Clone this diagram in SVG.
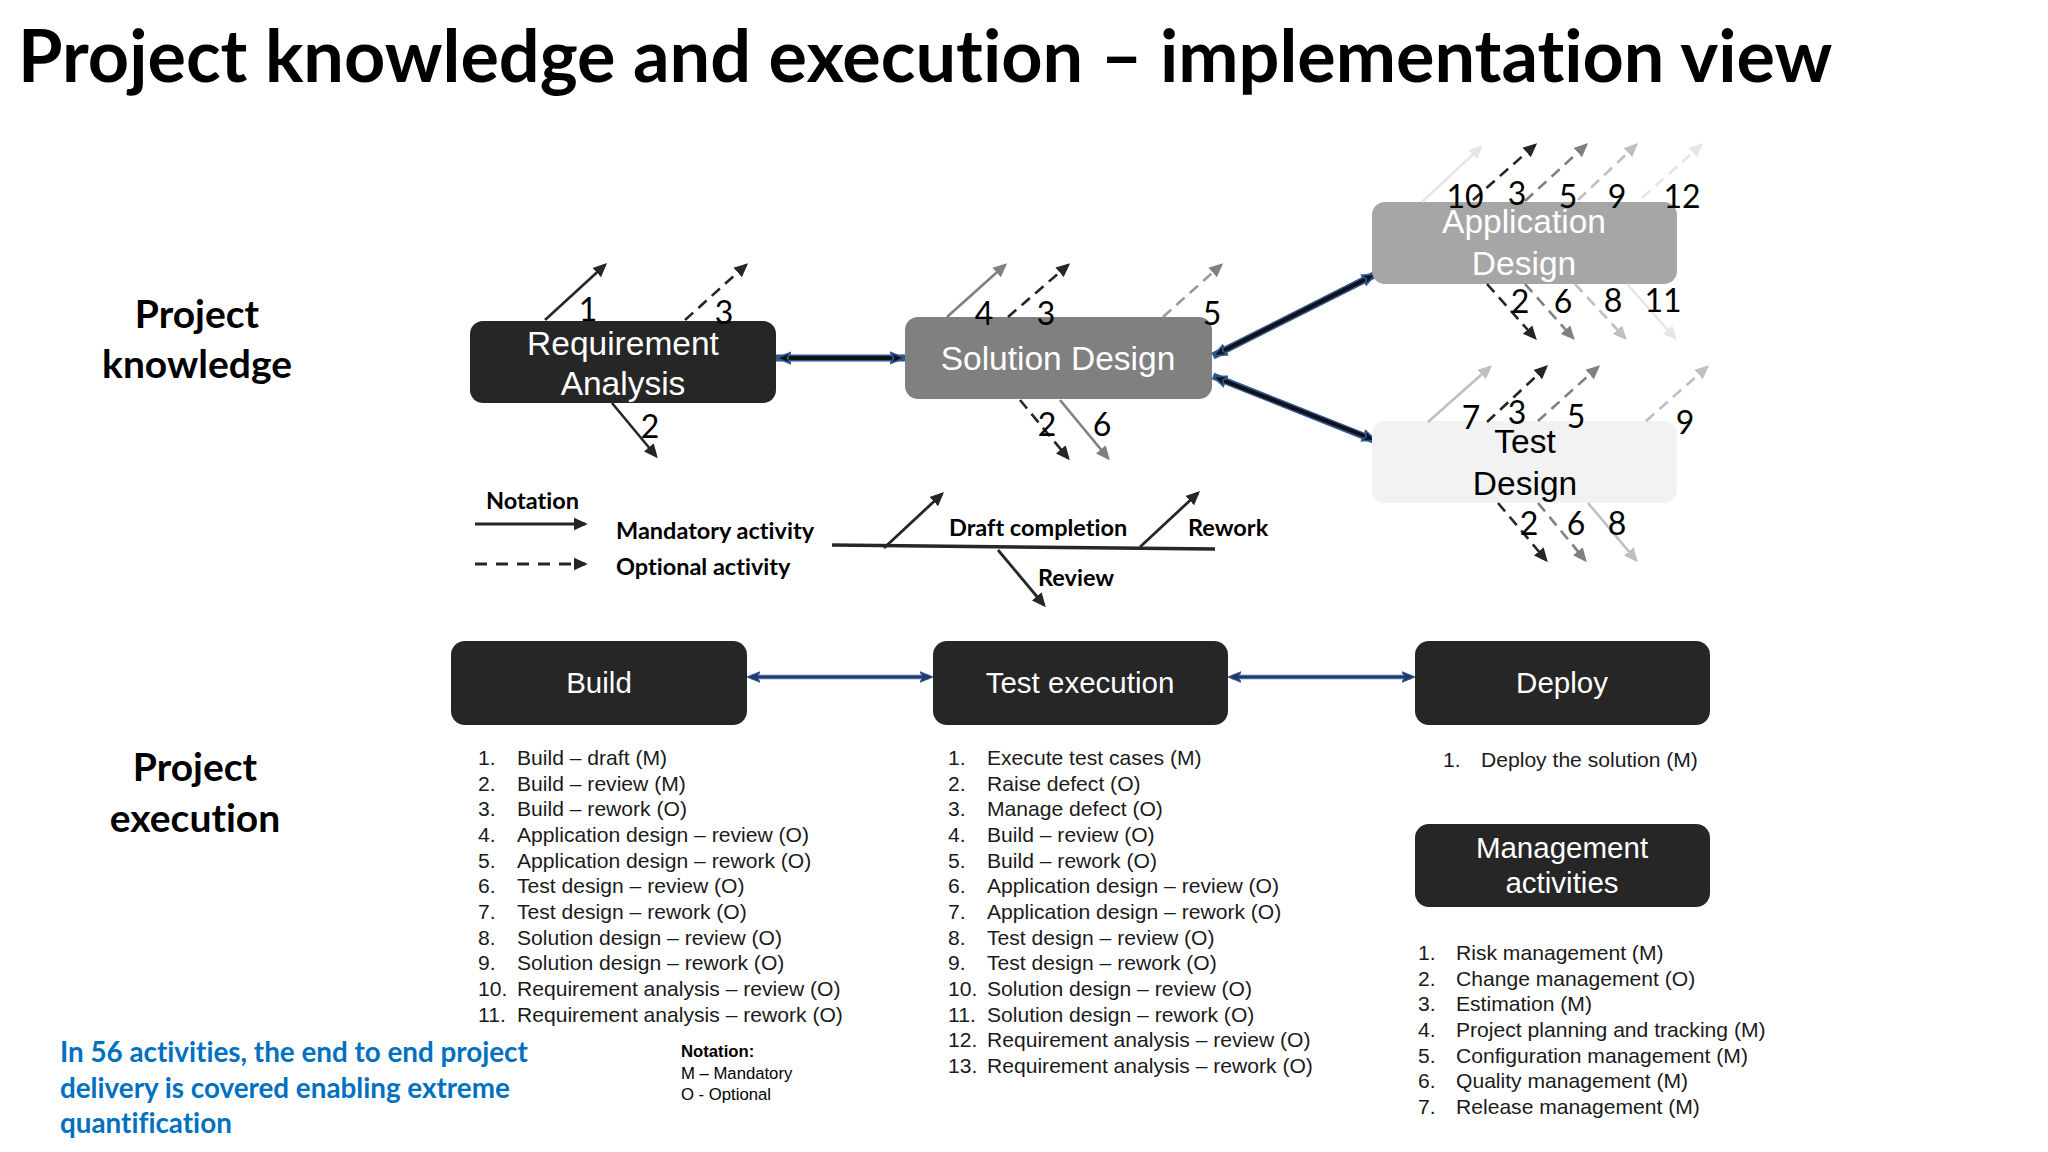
<svg xmlns="http://www.w3.org/2000/svg" width="2048" height="1152" viewBox="0 0 2048 1152">
<defs>
<style>
text{font-variant-ligatures:none}
.title{font-family:Lato,"Open Sans",sans-serif;font-weight:700;font-size:72px;fill:#000}
.sec{font-family:Lato,"Open Sans",sans-serif;font-weight:700;font-size:39px;fill:#000;text-anchor:middle}
.nl{font-family:"Liberation Sans",Arial,sans-serif;font-size:33.5px;fill:#fff;text-anchor:middle}
.nl2{font-family:"Liberation Sans",Arial,sans-serif;font-size:29.5px;fill:#fff;text-anchor:middle}
.num{font-family:Lato,"Open Sans",sans-serif;font-size:32px;fill:#000;text-anchor:middle}
.leg{font-family:Lato,"Open Sans",sans-serif;font-weight:700;font-size:23.5px;fill:#000}
.list{font-family:"Liberation Sans",Arial,sans-serif;font-size:21.1px;fill:#1a1a1a}
.blue{font-family:Lato,"Open Sans",sans-serif;font-weight:700;font-size:27.8px;fill:#0070C0}
.sm{font-family:"Liberation Sans",Arial,sans-serif;font-size:16.7px;fill:#000}
.a{fill:none;stroke-width:2.6}
.dash{stroke-dasharray:11 7}
.cD{stroke:#262626}
.cG{stroke:#808080}
.cL{stroke:#bfbfbf}
.cV{stroke:#e6e6e6}
</style>
<marker id="hD" viewBox="0 0 10 10" refX="8" refY="5" markerWidth="14" markerHeight="14" markerUnits="userSpaceOnUse" orient="auto"><path d="M0,0.5 L10,5 L0,9.5 z" fill="#262626"/></marker>
<marker id="hG" viewBox="0 0 10 10" refX="8" refY="5" markerWidth="14" markerHeight="14" markerUnits="userSpaceOnUse" orient="auto"><path d="M0,0.5 L10,5 L0,9.5 z" fill="#808080"/></marker>
<marker id="hL" viewBox="0 0 10 10" refX="8" refY="5" markerWidth="14" markerHeight="14" markerUnits="userSpaceOnUse" orient="auto"><path d="M0,0.5 L10,5 L0,9.5 z" fill="#bfbfbf"/></marker>
<marker id="hV" viewBox="0 0 10 10" refX="8" refY="5" markerWidth="14" markerHeight="14" markerUnits="userSpaceOnUse" orient="auto"><path d="M0,0.5 L10,5 L0,9.5 z" fill="#e6e6e6"/></marker>
<marker id="tE" viewBox="0 0 10 10" refX="7" refY="5" markerWidth="14" markerHeight="14" markerUnits="userSpaceOnUse" orient="auto-start-reverse"><path d="M0,1 L10,5 L0,9 L2.5,5 z" fill="#111" stroke="#2F5597" stroke-width="1.2"/></marker>
<marker id="nE" viewBox="0 0 10 10" refX="7" refY="5" markerWidth="13" markerHeight="13" markerUnits="userSpaceOnUse" orient="auto-start-reverse"><path d="M0,1 L10,5 L0,9 L2.5,5 z" fill="#203864" stroke="#2F5597" stroke-width="0.8"/></marker>
</defs>
<rect width="2048" height="1152" fill="#fff"/>

<text class="title" x="18" y="82">Project knowledge and execution – implementation view</text>

<text class="sec" x="197" y="328">Project</text>
<text class="sec" x="197" y="378">knowledge</text>
<text class="sec" x="195" y="781">Project</text>
<text class="sec" x="195" y="832">execution</text>

<!-- connectors -->
<g id="connectors">
  <line x1="776" y1="358" x2="905" y2="358" stroke="#2F5597" stroke-width="7"/>
  <line x1="781" y1="358" x2="900" y2="358" stroke="#111" stroke-width="4" marker-start="url(#tE)" marker-end="url(#tE)"/>
  <line x1="1213" y1="356" x2="1376" y2="274" stroke="#2F5597" stroke-width="7"/>
  <line x1="1217" y1="354" x2="1372" y2="276" stroke="#111" stroke-width="4" marker-start="url(#tE)" marker-end="url(#tE)"/>
  <line x1="1213" y1="376" x2="1376" y2="441" stroke="#2F5597" stroke-width="7"/>
  <line x1="1217" y1="378" x2="1372" y2="439" stroke="#111" stroke-width="4" marker-start="url(#tE)" marker-end="url(#tE)"/>
  <line x1="751" y1="677" x2="929" y2="677" stroke="#4a6aa8" stroke-width="4.5" marker-start="url(#nE)" marker-end="url(#nE)"/>
  <line x1="751" y1="677" x2="929" y2="677" stroke="#1F3864" stroke-width="2.2"/>
  <line x1="1232" y1="677" x2="1411" y2="677" stroke="#4a6aa8" stroke-width="4.5" marker-start="url(#nE)" marker-end="url(#nE)"/>
  <line x1="1232" y1="677" x2="1411" y2="677" stroke="#1F3864" stroke-width="2.2"/>
</g>

<!-- Requirement Analysis -->
<g id="req-analysis">
  <rect x="470" y="321" width="306" height="82" rx="13" fill="#262626"/>
  <text class="nl" x="623" y="355">Requirement</text>
  <text class="nl" x="623" y="395">Analysis</text>
  <line class="a cD" x1="545" y1="320" x2="605" y2="265" marker-end="url(#hD)"/>
  <line class="a cD dash" x1="685" y1="320" x2="746" y2="265" marker-end="url(#hD)"/>
  <line class="a cD" x1="612" y1="403" x2="656" y2="456" marker-end="url(#hD)"/>
  <text class="num" x="588" y="321">1</text>
  <text class="num" x="724" y="324">3</text>
  <text class="num" x="650" y="438">2</text>
</g>

<!-- Solution Design -->
<g id="solution-design">
  <rect x="905" y="317" width="307" height="82" rx="13" fill="#808080"/>
  <text class="nl" x="1058" y="370">Solution Design</text>
  <line class="a cG" x1="947" y1="317" x2="1005" y2="265" marker-end="url(#hG)"/>
  <line class="a cD dash" x1="1008" y1="317" x2="1068" y2="265" marker-end="url(#hD)"/>
  <line class="a dash" stroke="#999" x1="1163" y1="317" x2="1221" y2="265" marker-end="url(#hG)"/>
  <line class="a cD dash" x1="1020" y1="400" x2="1068" y2="458" marker-end="url(#hD)"/>
  <line class="a cG" x1="1060" y1="400" x2="1108" y2="458" marker-end="url(#hG)"/>
  <text class="num" x="984" y="325">4</text>
  <text class="num" x="1046" y="325">3</text>
  <text class="num" x="1212" y="325">5</text>
  <text class="num" x="1047" y="436">2</text>
  <text class="num" x="1102" y="436">6</text>
</g>

<!-- Application Design -->
<g id="application-design">
  <rect x="1372" y="202" width="305" height="82" rx="13" fill="#a6a6a6"/>
  <line class="a cV" x1="1422" y1="202" x2="1481" y2="147" marker-end="url(#hV)"/>
  <line class="a cD dash" x1="1473" y1="200" x2="1535" y2="145" marker-end="url(#hD)"/>
  <line class="a cG dash" x1="1525" y1="201" x2="1586" y2="145" marker-end="url(#hG)"/>
  <line class="a cL dash" x1="1578" y1="200" x2="1636" y2="145" marker-end="url(#hL)"/>
  <line class="a cV dash" x1="1642" y1="198" x2="1701" y2="145" marker-end="url(#hV)"/>
  <line class="a cD dash" x1="1487" y1="284" x2="1535" y2="338" marker-end="url(#hD)"/>
  <line class="a cG dash" x1="1525" y1="284" x2="1573" y2="338" marker-end="url(#hG)"/>
  <line class="a cL dash" x1="1575" y1="284" x2="1625" y2="338" marker-end="url(#hL)"/>
  <line class="a cV" x1="1627" y1="284" x2="1675" y2="338" marker-end="url(#hV)"/>
  <text class="nl" x="1524" y="233">Application</text>
  <text class="nl" x="1524" y="275">Design</text>
  <text class="num" x="1465" y="208">10</text>
  <text class="num" x="1517" y="205">3</text>
  <text class="num" x="1568" y="208">5</text>
  <text class="num" x="1617" y="208">9</text>
  <text class="num" x="1682" y="208">12</text>
  <text class="num" x="1520" y="313">2</text>
  <text class="num" x="1563" y="313">6</text>
  <text class="num" x="1613" y="312">8</text>
  <text class="num" x="1663" y="312">11</text>
</g>

<!-- Test Design -->
<g id="test-design">
  <rect x="1372" y="421" width="305" height="82" rx="13" fill="#f2f2f2"/>
  <line class="a cL" x1="1428" y1="422" x2="1490" y2="367" marker-end="url(#hL)"/>
  <line class="a cD dash" x1="1487" y1="422" x2="1546" y2="367" marker-end="url(#hD)"/>
  <line class="a cG dash" x1="1538" y1="421" x2="1598" y2="367" marker-end="url(#hG)"/>
  <line class="a cL dash" x1="1646" y1="421" x2="1707" y2="367" marker-end="url(#hL)"/>
  <line class="a cD dash" x1="1498" y1="503" x2="1546" y2="560" marker-end="url(#hD)"/>
  <line class="a cG dash" x1="1538" y1="503" x2="1585" y2="560" marker-end="url(#hG)"/>
  <line class="a cL" x1="1588" y1="503" x2="1636" y2="560" marker-end="url(#hL)"/>
  <text class="nl" x="1525" y="453" style="fill:#000">Test</text>
  <text class="nl" x="1525" y="495" style="fill:#000">Design</text>
  <text class="num" x="1471" y="429">7</text>
  <text class="num" x="1517" y="424">3</text>
  <text class="num" x="1576" y="428">5</text>
  <text class="num" x="1685" y="434">9</text>
  <text class="num" x="1529" y="535">2</text>
  <text class="num" x="1576" y="535">6</text>
  <text class="num" x="1617" y="535">8</text>
</g>

<!-- Notation legend -->
<g id="notation-legend">
  <text class="leg" x="486" y="509">Notation</text>
  <line x1="475" y1="524" x2="585" y2="524" stroke="#262626" stroke-width="3" marker-end="url(#hD)"/>
  <line x1="475" y1="564" x2="585" y2="564" stroke="#262626" stroke-width="3" stroke-dasharray="12 9" marker-end="url(#hD)"/>
  <text class="leg" x="616" y="539">Mandatory activity</text>
  <text class="leg" x="616" y="575">Optional activity</text>
  <line x1="832" y1="545" x2="1215" y2="549" stroke="#262626" stroke-width="3.5"/>
  <line x1="884" y1="548" x2="942" y2="494" stroke="#262626" stroke-width="2.8" marker-end="url(#hD)"/>
  <line x1="1140" y1="547" x2="1198" y2="493" stroke="#262626" stroke-width="2.8" marker-end="url(#hD)"/>
  <line x1="998" y1="550" x2="1044" y2="605" stroke="#262626" stroke-width="2.8" marker-end="url(#hD)"/>
  <text class="leg" x="949" y="536">Draft completion</text>
  <text class="leg" x="1188" y="536">Rework</text>
  <text class="leg" x="1038" y="586">Review</text>
</g>

<!-- Build -->
<g id="build">
  <rect x="451" y="641" width="296" height="84" rx="14" fill="#262626"/>
  <text class="nl2" x="599" y="693">Build</text>
  <text class="list">
    <tspan x="478" y="765">1.</tspan><tspan x="517" y="765">Build – draft (M)</tspan>
    <tspan x="478" y="790.6">2.</tspan><tspan x="517" y="790.6">Build – review (M)</tspan>
    <tspan x="478" y="816.3">3.</tspan><tspan x="517" y="816.3">Build – rework (O)</tspan>
    <tspan x="478" y="842">4.</tspan><tspan x="517" y="842">Application design – review (O)</tspan>
    <tspan x="478" y="867.6">5.</tspan><tspan x="517" y="867.6">Application design – rework (O)</tspan>
    <tspan x="478" y="893.3">6.</tspan><tspan x="517" y="893.3">Test design – review (O)</tspan>
    <tspan x="478" y="919">7.</tspan><tspan x="517" y="919">Test design – rework (O)</tspan>
    <tspan x="478" y="944.6">8.</tspan><tspan x="517" y="944.6">Solution design – review (O)</tspan>
    <tspan x="478" y="970.3">9.</tspan><tspan x="517" y="970.3">Solution design – rework (O)</tspan>
    <tspan x="478" y="996">10.</tspan><tspan x="517" y="996">Requirement analysis – review (O)</tspan>
    <tspan x="478" y="1021.6">11.</tspan><tspan x="517" y="1021.6">Requirement analysis – rework (O)</tspan>
  </text>
</g>

<!-- Test execution -->
<g id="test-execution">
  <rect x="933" y="641" width="295" height="84" rx="14" fill="#262626"/>
  <text class="nl2" x="1080" y="693">Test execution</text>
  <text class="list">
    <tspan x="948" y="765">1.</tspan><tspan x="987" y="765">Execute test cases (M)</tspan>
    <tspan x="948" y="790.6">2.</tspan><tspan x="987" y="790.6">Raise defect (O)</tspan>
    <tspan x="948" y="816.3">3.</tspan><tspan x="987" y="816.3">Manage defect (O)</tspan>
    <tspan x="948" y="842">4.</tspan><tspan x="987" y="842">Build – review (O)</tspan>
    <tspan x="948" y="867.6">5.</tspan><tspan x="987" y="867.6">Build – rework (O)</tspan>
    <tspan x="948" y="893.3">6.</tspan><tspan x="987" y="893.3">Application design – review (O)</tspan>
    <tspan x="948" y="919">7.</tspan><tspan x="987" y="919">Application design – rework (O)</tspan>
    <tspan x="948" y="944.6">8.</tspan><tspan x="987" y="944.6">Test design – review (O)</tspan>
    <tspan x="948" y="970.3">9.</tspan><tspan x="987" y="970.3">Test design – rework (O)</tspan>
    <tspan x="948" y="996">10.</tspan><tspan x="987" y="996">Solution design – review (O)</tspan>
    <tspan x="948" y="1021.6">11.</tspan><tspan x="987" y="1021.6">Solution design – rework (O)</tspan>
    <tspan x="948" y="1047.3">12.</tspan><tspan x="987" y="1047.3">Requirement analysis – review (O)</tspan>
    <tspan x="948" y="1073">13.</tspan><tspan x="987" y="1073">Requirement analysis – rework (O)</tspan>
  </text>
</g>

<!-- Deploy -->
<g id="deploy">
  <rect x="1415" y="641" width="295" height="84" rx="14" fill="#262626"/>
  <text class="nl2" x="1562" y="693">Deploy</text>
  <text class="list"><tspan x="1443" y="767">1.</tspan><tspan x="1481" y="767">Deploy the solution (M)</tspan></text>
</g>

<!-- Management activities -->
<g id="management-activities">
  <rect x="1415" y="824" width="295" height="83" rx="14" fill="#262626"/>
  <text class="nl2" x="1562" y="858">Management</text>
  <text class="nl2" x="1562" y="893">activities</text>
  <text class="list">
    <tspan x="1418" y="960">1.</tspan><tspan x="1456" y="960">Risk management (M)</tspan>
    <tspan x="1418" y="985.6">2.</tspan><tspan x="1456" y="985.6">Change management (O)</tspan>
    <tspan x="1418" y="1011.3">3.</tspan><tspan x="1456" y="1011.3">Estimation (M)</tspan>
    <tspan x="1418" y="1037">4.</tspan><tspan x="1456" y="1037">Project planning and tracking (M)</tspan>
    <tspan x="1418" y="1062.6">5.</tspan><tspan x="1456" y="1062.6">Configuration management (M)</tspan>
    <tspan x="1418" y="1088.3">6.</tspan><tspan x="1456" y="1088.3">Quality management (M)</tspan>
    <tspan x="1418" y="1114">7.</tspan><tspan x="1456" y="1114">Release management (M)</tspan>
  </text>
</g>

<!-- summary and notation -->
<text class="blue"><tspan x="60" y="1062">In 56 activities, the end to end project</tspan><tspan x="60" y="1098">delivery is covered enabling extreme</tspan><tspan x="60" y="1133">quantification</tspan></text>
<text class="sm"><tspan x="681" y="1057" font-weight="700">Notation:</tspan><tspan x="681" y="1079">M – Mandatory</tspan><tspan x="681" y="1100">O - Optional</tspan></text>
</svg>
